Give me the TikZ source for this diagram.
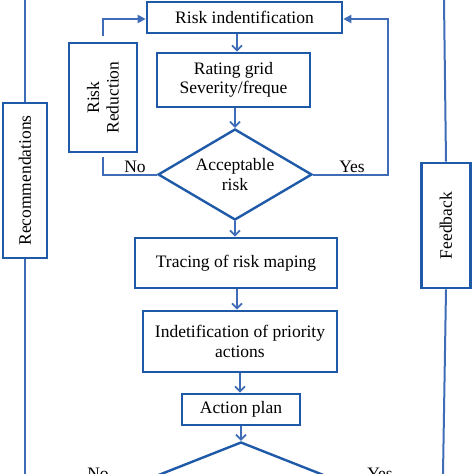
\documentclass[tikz,border=0pt]{standalone}
\usepackage{fontspec}
\setmainfont{Liberation Serif}
\usetikzlibrary{shapes.geometric,arrows.meta,calc}
\definecolor{boxblue}{RGB}{30,90,168}
\definecolor{lineblue}{RGB}{62,108,182}
\tikzset{
  boxnode/.style={draw=boxblue,line width=2.6pt,fill=white,inner sep=2pt,align=center,
    font=\fontsize{17.5}{19.5}\selectfont},
  dianode/.style={draw=boxblue,line width=2.4pt,fill=white,shape=diamond,inner sep=0pt,aspect=1.7,align=center,
    font=\fontsize{17.5}{19.5}\selectfont},
  conn/.style={draw=lineblue,line width=2pt},
  arr/.style={conn,-{Straight Barb[length=5pt,width=10pt,line width=1.8pt]}},
  sidearr/.style={conn,-{Triangle[length=8pt,width=8pt]}},
  lbl/.style={font=\fontsize{17.5}{19.5}\selectfont,inner sep=0pt,anchor=base}
}
\begin{document}
\begin{tikzpicture}[x=1pt,y=-1pt]
\useasboundingbox (0,0) rectangle (474,474);
\clip (0,0) rectangle (474,474);
% nodes
\node[boxnode,minimum width=195pt,minimum height=31pt] (rid) at (244.5,17.5) {Risk indentification};
\node[boxnode,minimum width=153pt,minimum height=54pt] (rate) at (233.5,80) {Rating grid\\Severity/freque};
\node[dianode,minimum width=154pt,minimum height=91pt] (acc) at (235,174.5) {Acceptable\\risk};
\node[boxnode,rotate=90,minimum width=109pt,minimum height=68pt] (rr) at (103,97.5) {Risk\\Reduction};
\node[boxnode,rotate=90,minimum width=155pt,minimum height=44pt] (rec) at (25,180.5) {Recommendations};
\node[boxnode,rotate=90,minimum width=125pt,minimum height=49pt] (fb) at (446,225.5) {Feedback};
\node[boxnode,minimum width=202pt,minimum height=50pt] (trace) at (236,263) {Tracing of risk maping};
\node[boxnode,minimum width=194pt,minimum height=61pt] (ident) at (240,341.5) {Indetification of priority\\actions};
\node[boxnode,minimum width=118pt,minimum height=31pt] (action) at (241,409.5) {Action plan};
\node[dianode,minimum width=252pt,minimum height=100pt] (dec) at (241,492) {};
% labels
\node[lbl] (no1) at (135,172) {No};
\node[lbl] (yes1) at (352,172) {Yes};
\node[lbl] (no2) at (98,479) {No};
\node[lbl] (yes2) at (380,479) {Yes};
% coordinates
\coordinate (a1) at (237,0);
\coordinate (a2) at (235,0);
\coordinate (a3) at (237,0);
\coordinate (a4) at (240,0);
\coordinate (yesc) at (388,174.5);
\coordinate (rectop) at (25,0);
\coordinate (recbot) at (25,474);
\coordinate (fbtop) at (444,0);
\coordinate (fbbot) at (443,474);
% connectors
\draw[arr] (rid.south -| a1) -- (rate.north -| a1);
\draw[arr] (rate.south -| a2) -- (acc.north);
\draw[arr] (acc.south) -- (trace.north -| acc.south);
\draw[arr] (trace.south -| a3) -- (ident.north -| a3);
\draw[arr] (ident.south -| a4) -- (action.north -| a4);
\draw[arr] (action.south) -- (dec.north);
\draw[conn] (acc.west) -| ($(rr.west)+(0,4)$);
\draw[sidearr] ($(rr.east)+(0,-6)$) |- ($(rid.west)+(0,1.5)$);
\draw[sidearr] (acc.east) -- (yesc) |- ($(rid.east)+(0,1.5)$);
\draw[conn] (rectop) -- (rec.east);
\draw[conn] (rec.west) -- (recbot);
\draw[conn] (fbtop) -- (fb.east);
\draw[conn] (fb.west) -- (fbbot);
\end{tikzpicture}
\end{document}
